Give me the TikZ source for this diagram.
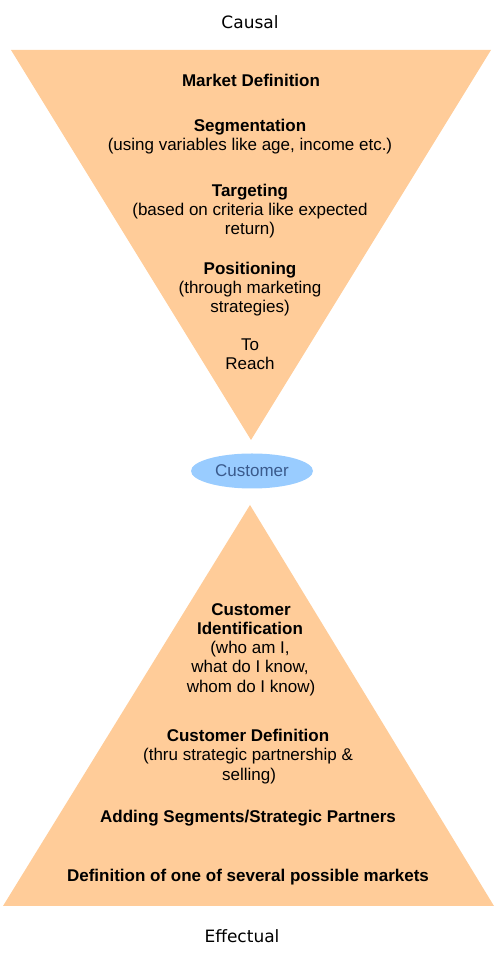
\documentclass[tikz,border=0pt]{standalone}
\usepackage{fontspec}
\setmainfont{Liberation Sans}
\newfontfamily\dejavu{DejaVu Sans}
\usetikzlibrary{shapes.geometric}
\definecolor{peach}{HTML}{FFCC99}
\definecolor{skyblue}{HTML}{99CCFF}
\definecolor{custtext}{HTML}{3A5A8C}
\begin{document}
\begin{tikzpicture}[x=1pt,y=1pt,
  txt/.style={anchor=base, inner sep=0pt, font=\fontsize{17}{19}\selectfont, text=black},
  btxt/.style={txt, font=\fontsize{17}{19}\selectfont\bfseries},
  ltxt/.style={txt, font=\fontsize{17}{19}\selectfont\dejavu},
  tri/.style={fill=peach, draw=none}]
\useasboundingbox (0,0) rectangle (499,954);
% triangles
\fill[peach] (11,904) -- (491,904) -- (251,514) -- cycle;
\fill[peach] (250,449) -- (494,48) -- (3,48) -- cycle;
% ellipse
\node[ellipse, fill=skyblue, minimum width=122pt, minimum height=35pt, inner sep=0pt,
      font=\fontsize{17}{19}\selectfont, text=custtext] (cust) at (252,483) {Customer};
% labels
\node[ltxt] (causal) at (250,925) {Causal};
\node[ltxt] (effect) at (242,12) {Effectual};
% top triangle
\node[btxt] (t1) at (251,867) {Market Definition};
\node[btxt] (t2) at (250,822) {Segmentation};
\node[txt]  (t3) at (250,803) {(using variables like age, income etc.)};
\node[btxt] (t4) at (250,757) {Targeting};
\node[txt]  (t5) at (250,738) {(based on criteria like expected};
\node[txt]  (t6) at (250,719) {return)};
\node[btxt] (t7) at (250,679) {Positioning};
\node[txt]  (t8) at (250,660) {(through marketing};
\node[txt]  (t9) at (250,641) {strategies)};
\node[txt]  (t10) at (250,603) {To};
\node[txt]  (t11) at (250,584) {Reach};
% bottom triangle
\node[btxt] (b1) at (251,338) {Customer};
\node[btxt] (b2) at (250,319) {Identification};
\node[txt]  (b3) at (250,300) {(who am I,};
\node[txt]  (b4) at (250,281) {what do I know,};
\node[txt]  (b5) at (251,261) {whom do I know)};
\node[btxt] (b6) at (248,212) {Customer Definition};
\node[txt]  (b7) at (248,193) {(thru strategic partnership \&};
\node[txt]  (b8) at (249,173) {selling)};
\node[btxt] (b9) at (248,131) {Adding Segments/Strategic Partners};
\node[btxt] (b10) at (248,72) {Definition of one of several possible markets};
\end{tikzpicture}
\end{document}
